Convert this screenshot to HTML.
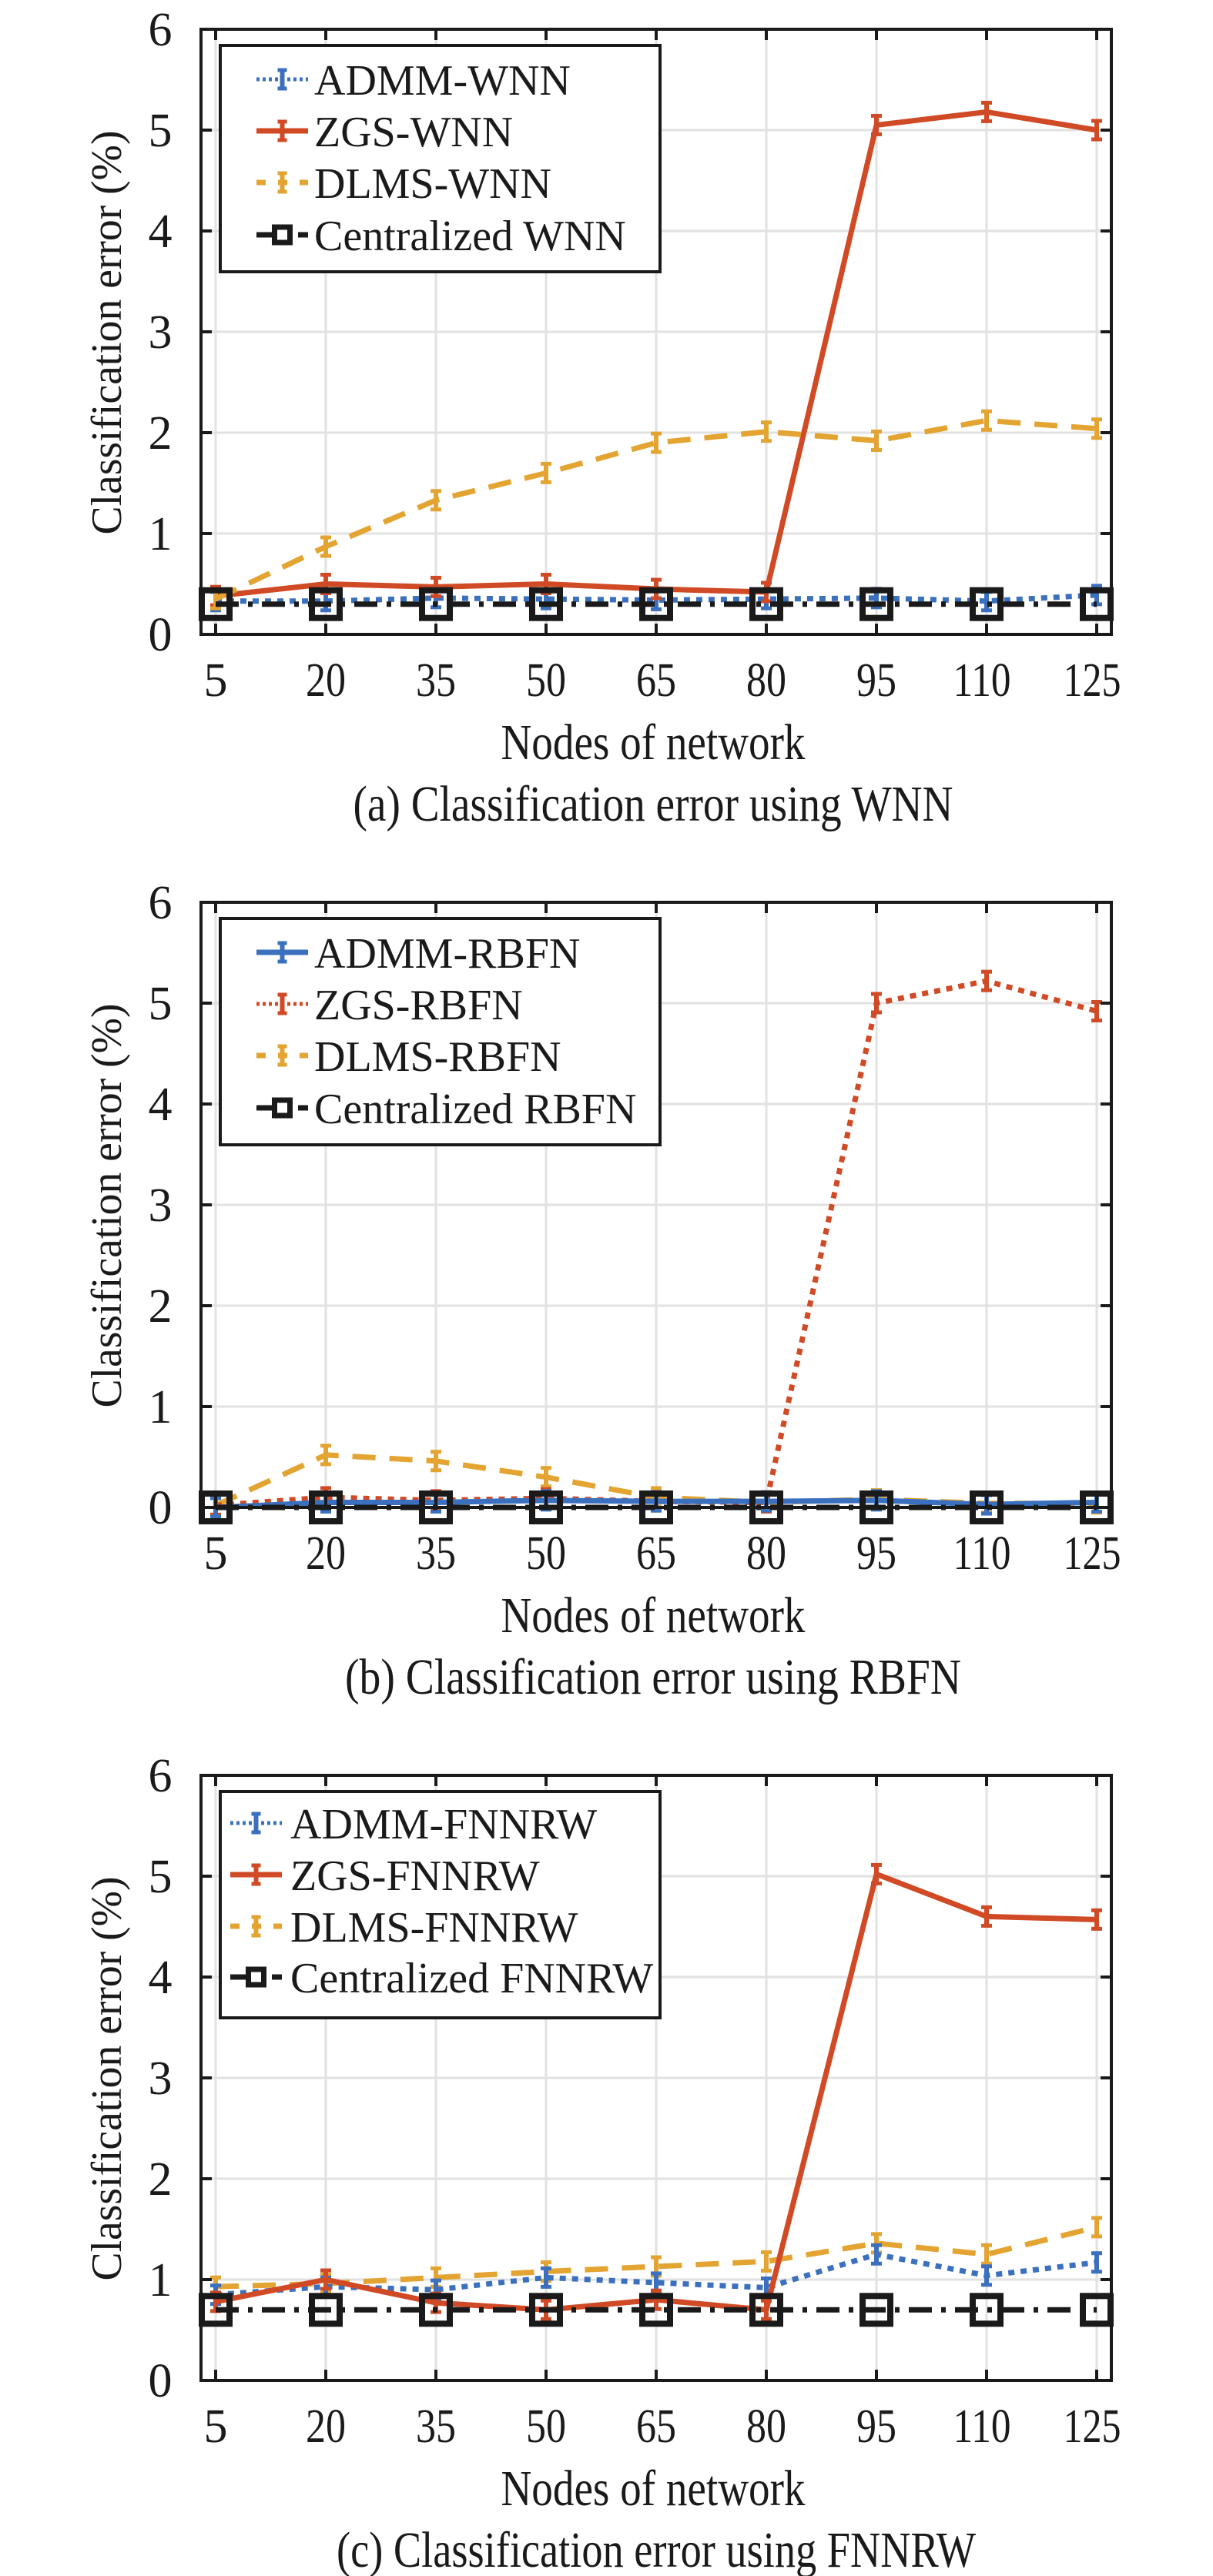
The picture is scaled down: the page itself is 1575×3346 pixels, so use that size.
<!DOCTYPE html>
<html><head><meta charset="utf-8"><style>
html,body{margin:0;padding:0;background:#fff;}
svg{display:block;}
text{font-family:"Liberation Serif",serif;fill:#1a1a1a;}
</style></head><body>
<svg id="s" width="1575" height="3346" viewBox="0 0 1575 3346" xmlns="http://www.w3.org/2000/svg">
<g id="bg"></g>
<g id="txt"></g>
<g id="fg"></g>
<g id="leg">
<rect x="286" y="59" width="571" height="294" fill="#fff" stroke="#1a1a1a" stroke-width="4"/>
<g font-size="56"><text x="408" y="123">ADMM-WNN</text><text x="408" y="190">ZGS-WNN</text><text x="408" y="257">DLMS-WNN</text><text x="408" y="325">Centralized WNN</text></g>
<rect x="286" y="1193" width="571" height="294" fill="#fff" stroke="#1a1a1a" stroke-width="4"/>
<g font-size="56"><text x="408" y="1257">ADMM-RBFN</text><text x="408" y="1324">ZGS-RBFN</text><text x="408" y="1391">DLMS-RBFN</text><text x="408" y="1459">Centralized RBFN</text></g>
<rect x="286" y="2327" width="571" height="294" fill="#fff" stroke="#1a1a1a" stroke-width="4"/>
<g font-size="56"><text x="377" y="2388">ADMM-FNNRW</text><text x="377" y="2455">ZGS-FNNRW</text><text x="377" y="2522">DLMS-FNNRW</text><text x="377" y="2588">Centralized FNNRW</text></g>
</g>
<g id="legs"></g>
<!-- static text -->
<g font-size="62" text-anchor="middle">
<text x="208" y="59">6</text><text x="208" y="190">5</text><text x="208" y="321">4</text><text x="208" y="452">3</text><text x="208" y="583">2</text><text x="208" y="714">1</text><text x="208" y="845">0</text>
<text x="280" y="904">5</text><text x="423" y="904" textLength="52" lengthAdjust="spacingAndGlyphs">20</text><text x="566" y="904" textLength="52" lengthAdjust="spacingAndGlyphs">35</text><text x="709" y="904" textLength="52" lengthAdjust="spacingAndGlyphs">50</text><text x="852" y="904" textLength="52" lengthAdjust="spacingAndGlyphs">65</text><text x="995" y="904" textLength="52" lengthAdjust="spacingAndGlyphs">80</text><text x="1138" y="904" textLength="52" lengthAdjust="spacingAndGlyphs">95</text><text x="1275" y="904" textLength="75" lengthAdjust="spacingAndGlyphs">110</text><text x="1418" y="904" textLength="75" lengthAdjust="spacingAndGlyphs">125</text>
<text x="848" y="986" textLength="395" lengthAdjust="spacingAndGlyphs" font-size="66">Nodes of network</text>
<text x="848" y="1066" textLength="779" lengthAdjust="spacingAndGlyphs" font-size="66">(a) Classification error using WNN</text>
<text transform="translate(157,432) rotate(-90)" textLength="525" lengthAdjust="spacingAndGlyphs" font-size="56">Classification error (%)</text>
</g>
<g font-size="62" text-anchor="middle" transform="translate(0,1134)">
<text x="208" y="59">6</text><text x="208" y="190">5</text><text x="208" y="321">4</text><text x="208" y="452">3</text><text x="208" y="583">2</text><text x="208" y="714">1</text><text x="208" y="845">0</text>
<text x="280" y="904">5</text><text x="423" y="904" textLength="52" lengthAdjust="spacingAndGlyphs">20</text><text x="566" y="904" textLength="52" lengthAdjust="spacingAndGlyphs">35</text><text x="709" y="904" textLength="52" lengthAdjust="spacingAndGlyphs">50</text><text x="852" y="904" textLength="52" lengthAdjust="spacingAndGlyphs">65</text><text x="995" y="904" textLength="52" lengthAdjust="spacingAndGlyphs">80</text><text x="1138" y="904" textLength="52" lengthAdjust="spacingAndGlyphs">95</text><text x="1275" y="904" textLength="75" lengthAdjust="spacingAndGlyphs">110</text><text x="1418" y="904" textLength="75" lengthAdjust="spacingAndGlyphs">125</text>
<text x="848" y="986" textLength="395" lengthAdjust="spacingAndGlyphs" font-size="66">Nodes of network</text>
<text x="848" y="1066" textLength="800" lengthAdjust="spacingAndGlyphs" font-size="66">(b) Classification error using RBFN</text>
<text transform="translate(157,432) rotate(-90)" textLength="525" lengthAdjust="spacingAndGlyphs" font-size="56">Classification error (%)</text>
</g>
<g font-size="62" text-anchor="middle" transform="translate(0,2268)">
<text x="208" y="59">6</text><text x="208" y="190">5</text><text x="208" y="321">4</text><text x="208" y="452">3</text><text x="208" y="583">2</text><text x="208" y="714">1</text><text x="208" y="845">0</text>
<text x="280" y="904">5</text><text x="423" y="904" textLength="52" lengthAdjust="spacingAndGlyphs">20</text><text x="566" y="904" textLength="52" lengthAdjust="spacingAndGlyphs">35</text><text x="709" y="904" textLength="52" lengthAdjust="spacingAndGlyphs">50</text><text x="852" y="904" textLength="52" lengthAdjust="spacingAndGlyphs">65</text><text x="995" y="904" textLength="52" lengthAdjust="spacingAndGlyphs">80</text><text x="1138" y="904" textLength="52" lengthAdjust="spacingAndGlyphs">95</text><text x="1275" y="904" textLength="75" lengthAdjust="spacingAndGlyphs">110</text><text x="1418" y="904" textLength="75" lengthAdjust="spacingAndGlyphs">125</text>
<text x="848" y="986" textLength="395" lengthAdjust="spacingAndGlyphs" font-size="66">Nodes of network</text>
<text x="852" y="1066" textLength="830" lengthAdjust="spacingAndGlyphs" font-size="66">(c) Classification error using FNNRW</text>
<text transform="translate(157,432) rotate(-90)" textLength="525" lengthAdjust="spacingAndGlyphs" font-size="56">Classification error (%)</text>
</g>
</svg>
<script>
const NS="http://www.w3.org/2000/svg";
function el(p,t,a){const e=document.createElementNS(NS,t);for(const k in a)e.setAttribute(k,a[k]);p.appendChild(e);return e;}
const bg=document.getElementById('bg'),fg=document.getElementById('fg'),lg=document.getElementById('legs');
const B='#3b70be',R='#d04a26',Y='#e3a432',K='#1a1a1a';
const L=261,Rt=1443,T=38,Bo=824;
const X=i=>280+i*143;
const st={solid:'none',dot:'8 8',dash:'30 18',dd:'30 12 6 12'};
const charts=[
 {off:0,series:[
  {c:B,s:'dot',d:[0.33,0.33,0.36,0.35,0.34,0.35,0.36,0.33,0.39]},
  {c:R,s:'solid',d:[0.38,0.5,0.47,0.5,0.45,0.42,5.05,5.18,5.0]},
  {c:Y,s:'dash',d:[0.35,0.87,1.33,1.6,1.9,2.01,1.92,2.12,2.04]},
  {c:K,s:'dd',d:[0.3,0.3,0.3,0.3,0.3,0.3,0.3,0.3,0.3],sq:1}],
  leg:{x0:333,x1:400,ys:[103,170,237,305],styles:['dot','solid','dash','dd']}},
 {off:1134,series:[
  {c:Y,s:'dash',d:[0.02,0.52,0.46,0.3,0.1,0.05,0.08,0.04,0.04]},
  {c:R,s:'dot',d:[0.02,0.1,0.07,0.09,0.06,0.05,5.0,5.22,4.92]},
  {c:B,s:'solid',d:[0.0,0.05,0.05,0.07,0.06,0.06,0.07,0.03,0.05]},
  {c:K,s:'dd',d:[0,0,0,0,0,0,0,0,0],sq:1}],
  leg:{x0:333,x1:400,ys:[1237,1304,1371,1439],styles:['solid','dot','dash','dd']}},
 {off:2268,series:[
  {c:Y,s:'dash',d:[0.93,0.96,1.02,1.08,1.13,1.18,1.36,1.25,1.52]},
  {c:B,s:'dot',d:[0.85,0.93,0.9,1.02,0.97,0.92,1.25,1.04,1.17]},
  {c:R,s:'solid',d:[0.78,1.0,0.77,0.7,0.8,0.7,5.02,4.6,4.57]},
  {c:K,s:'dd',d:[0.7,0.7,0.7,0.7,0.7,0.7,0.7,0.7,0.7],sq:1}],
  leg:{x0:299,x1:366,ys:[2368,2435,2502,2568],styles:['dot','solid','dash','dd']}}
];
const legCols=[B,R,Y,K];
charts.forEach((ch,ci)=>{
 const o=ch.off,Yv=v=>o+Bo-131*v;
 for(let i=0;i<9;i++)el(bg,'line',{x1:X(i),x2:X(i),y1:o+T,y2:o+Bo,stroke:'#e2e2e2','stroke-width':3});
 for(let v=1;v<6;v++)el(bg,'line',{x1:L,x2:Rt,y1:Yv(v),y2:Yv(v),stroke:'#e2e2e2','stroke-width':3});
 ch.series.forEach(s=>{
  const pts=s.d.map((v,i)=>X(i)+','+Yv(v)).join(' ');
  el(fg,'polyline',{points:pts,fill:'none',stroke:s.c,'stroke-width':7,'stroke-dasharray':st[s.s],'stroke-linejoin':'round'});
  if(!s.sq){s.d.forEach((v,i)=>{const y=Yv(v);
   el(fg,'line',{x1:X(i),x2:X(i),y1:y-12,y2:y+12,stroke:s.c,'stroke-width':6});
   el(fg,'line',{x1:X(i)-7,x2:X(i)+7,y1:y-12,y2:y-12,stroke:s.c,'stroke-width':5});
   el(fg,'line',{x1:X(i)-7,x2:X(i)+7,y1:y+12,y2:y+12,stroke:s.c,'stroke-width':5});});}
  else s.d.forEach((v,i)=>el(fg,'rect',{x:X(i)-18,y:Yv(v)-18,width:36,height:36,fill:'none',stroke:K,'stroke-width':8}));
 });
 el(fg,'rect',{x:L,y:o+T,width:Rt-L,height:Bo-T,fill:'none',stroke:K,'stroke-width':4});
 for(let i=0;i<9;i++){el(fg,'line',{x1:X(i),x2:X(i),y1:o+Bo,y2:o+Bo-14,stroke:K,'stroke-width':4});el(fg,'line',{x1:X(i),x2:X(i),y1:o+T,y2:o+T+14,stroke:K,'stroke-width':4});}
 for(let v=1;v<6;v++){el(fg,'line',{x1:L,x2:L+14,y1:Yv(v),y2:Yv(v),stroke:K,'stroke-width':4});el(fg,'line',{x1:Rt,x2:Rt-14,y1:Yv(v),y2:Yv(v),stroke:K,'stroke-width':4});}
 const lgd=ch.leg;
 lgd.ys.forEach((y,k)=>{const c=legCols[k],s=lgd.styles[k],xm=(lgd.x0+lgd.x1)/2;
  el(lg,'line',{x1:lgd.x0,x2:lgd.x1,y1:y,y2:y,stroke:c,'stroke-width':s=='dot'?5:7,'stroke-dasharray':s=='dot'?'4 4':(s=='dash'?'12 16':(s=='dd'?'28 10 6 10':'none'))});
  if(k<3){el(lg,'line',{x1:xm,x2:xm,y1:y-12,y2:y+12,stroke:c,'stroke-width':6});
   el(lg,'line',{x1:xm-6,x2:xm+6,y1:y-12,y2:y-12,stroke:c,'stroke-width':5});
   el(lg,'line',{x1:xm-6,x2:xm+6,y1:y+12,y2:y+12,stroke:c,'stroke-width':5});}
  else el(lg,'rect',{x:xm-10,y:y-10,width:20,height:20,fill:'#fff',stroke:K,'stroke-width':7});
 });
});
</script>
</body></html>
